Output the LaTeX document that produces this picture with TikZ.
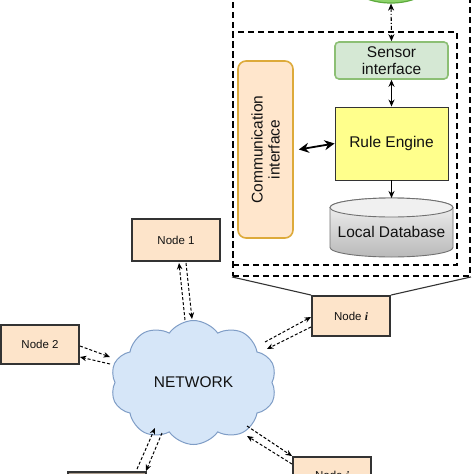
\documentclass[tikz,border=0pt]{standalone}
\usepackage{fontspec}
\setmainfont{Liberation Sans}
\newfontfamily\serifit{Liberation Serif}
\usetikzlibrary{shapes.geometric,shapes.symbols,arrows.meta,calc}
\definecolor{nodefill}{HTML}{FDE4CA}
\definecolor{nodeline}{HTML}{333333}
\definecolor{cloudfill}{HTML}{D6E6F8}
\definecolor{cloudline}{HTML}{7F9DC6}
\definecolor{sensfill}{HTML}{D5E8D4}
\definecolor{sensline}{HTML}{8CBF74}
\definecolor{rulefill}{HTML}{FFFF8C}
\definecolor{commfill}{HTML}{FFE6CC}
\definecolor{commline}{HTML}{DDAA3A}
\definecolor{ellfill}{HTML}{8ED46C}
\definecolor{ellline}{HTML}{5DAA3C}
\definecolor{txt}{HTML}{111111}
\definecolor{dbline}{HTML}{707070}
\tikzset{
  netnode/.style={draw=nodeline, fill=nodefill, line width=1.9pt, minimum width=78pt, minimum height=40pt, inner sep=0pt, font=\fontsize{11.5}{13}\selectfont, text=txt},
  dl/.style={dash pattern=on 3pt off 2pt, line width=1pt, -{Stealth[length=6.5pt,width=5.5pt]}},
  boxdash/.style={draw=black, line width=1.9pt, dash pattern=on 6pt off 4pt},
  mod/.style={font=\fontsize{15.5}{17}\selectfont, text=txt, align=center, inner sep=0pt},
  tip/.style={{Stealth[length=7pt,width=6pt]}-{Stealth[length=7pt,width=6pt]}, line width=1.1pt}
}
\begin{document}
\begin{tikzpicture}[x=1pt,y=-1pt]
\useasboundingbox (0,0) rectangle (474,474);
\begin{scope}
\clip (0,0) rectangle (474,474);
% top ellipse (cut off)
\node[ellipse, draw=ellline, fill=ellfill, line width=1.2pt, minimum width=77pt, minimum height=38pt, inner sep=0pt] (top) at (391,-16) {};
% boxes
\node[boxdash, minimum width=237pt, minimum height=340pt, inner sep=0pt] (outer) at (351.5,106) {};
\node[boxdash, minimum width=224pt, minimum height=233pt, inner sep=0pt] (inner) at (345,148.5) {};
% modules
\node[mod, draw=sensline, fill=sensfill, line width=1.6pt, rounded corners=4pt, minimum width=113pt, minimum height=37pt] (sens) at (391.5,60.5) {Sensor\\interface};
\node[mod, draw=nodeline, fill=rulefill, line width=0.9pt, minimum width=113pt, minimum height=73pt] (rule) at (391.5,143.5) {Rule Engine};
\node[mod, draw=commline, fill=commfill, line width=1.6pt, rounded corners=8pt, minimum width=55pt, minimum height=177pt] (comm) at (265.5,149.5) {};
\node[mod, rotate=90] at (comm.center) {Communication\\interface};
% local database cylinder
\begin{scope}[shift={(391.5,227.5)}, y=1pt]
\path[draw=dbline, line width=0.9pt, top color=gray!8, bottom color=gray!55]
  (-61.5,20) -- (-61.5,-20) arc[start angle=180, end angle=360, x radius=61.5pt, y radius=9.5pt]
  -- (61.5,20) arc[start angle=0, end angle=180, x radius=61.5pt, y radius=9.5pt] -- cycle;
\draw[dbline, line width=0.9pt, fill=gray!12] (0,20) ellipse[x radius=61.5pt, y radius=9.5pt];
\end{scope}
\coordinate (dbtop) at (391.5,198);
\node[mod] (db) at (391.5,232) {Local Database};
% module arrows
\draw[tip, dash pattern=on 4pt off 2pt on 1pt off 2pt] (top.south) -- (sens.north);
\draw[tip] (sens.south) -- (rule.north);
\draw[-{Stealth[length=7pt,width=6pt]}, line width=1.1pt] (rule.south) -- (dbtop);
\draw[{Stealth[length=10pt,width=10pt]}-{Stealth[length=10pt,width=10pt]}, line width=1.8pt] ($(comm.east)+(5,0)$) -- (rule.west);
% network nodes
\node[netnode, minimum width=88pt, minimum height=42pt] (n1) at (176,240) {Node 1};
\node[netnode, minimum width=78pt, minimum height=39pt] (n2) at (40,344.5) {Node 2};
\node[netnode] (ni) at (351,316) {Node {\serifit\bfseries\itshape i}};
\node[netnode, fill=nodefill!60!nodeline] (n3) at (107,492) {};
\node[netnode] (nj) at (332,477) {Node {\serifit\bfseries\itshape j}};
\node[cloud, cloud puffs=10, cloud puff arc=110, aspect=1.35, draw=cloudline, fill=cloudfill, line width=1pt, minimum width=166pt, minimum height=124pt, inner sep=0pt, font=\fontsize{15.5}{17}\selectfont, text=txt] (net) at (193.5,382.5) {NETWORK};
% zoom lines
\draw[line width=1.1pt, nodeline] (outer.south west) -- (ni.north west);
\draw[line width=1.1pt, nodeline] (outer.south east) -- (ni.north east);
% network connectors
\draw[dl] ($(net.center)+(-8.5,-62.5)$) -- ($(n1.south)+(3,1)$);
\draw[dl] ($(n1.south)+(10,1)$) -- ($(net.center)+(-1.5,-63.5)$);
\draw[dl] ($(n2.east)+(0,1.5)$) -- ($(net.center)+(-83.5,-25.5)$);
\draw[dl] ($(net.center)+(-83.5,-18.5)$) -- ($(n2.east)+(0,12.5)$);
\draw[dl] ($(net.center)+(71.5,-40.5)$) -- ($(ni.west)+(0,1)$);
\draw[dl] ($(ni.west)+(0,11)$) -- ($(net.center)+(73.5,-33.5)$);
\draw[dl] ($(net.center)+(53.5,43.5)$) -- ($(nj.north west)+(0,0)$);
\draw[dl] ($(nj.north west)+(0,8)$) -- ($(net.center)+(53.5,53.5)$);
\draw[dl] ($(n3.north)+(30,-2)$) -- ($(net.center)+(-38.5,45.5)$);
\draw[dl] ($(net.center)+(-31.5,50.5)$) -- ($(n3.north)+(39,0)$);
\end{scope}
\end{tikzpicture}
\end{document}
